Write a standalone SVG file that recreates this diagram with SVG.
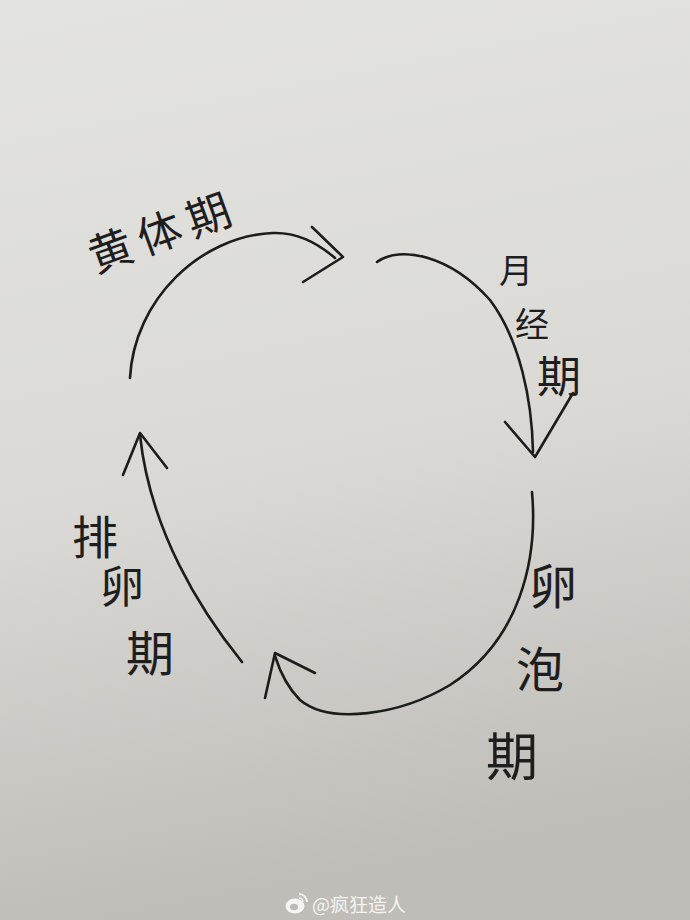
<svg xmlns="http://www.w3.org/2000/svg" width="690" height="920" viewBox="0 0 690 920">
<defs>
<linearGradient id="bg" x1="0" y1="0" x2="0.15" y2="1">
<stop offset="0" stop-color="#e3e3df"/>
<stop offset="0.55" stop-color="#dad9d5"/>
<stop offset="1" stop-color="#c0bdb8"/>
</linearGradient>
<style>
.ink{fill:none;stroke:#1c1c1c;stroke-width:2.6;stroke-linecap:round;stroke-linejoin:round}
.lbl{font-family:"Noto Sans CJK SC","Noto Sans",sans-serif;font-weight:400;fill:#1e1e1e;text-anchor:middle}
.wm{font-family:"Noto Sans CJK SC","Liberation Sans",sans-serif;font-size:19px;fill:#f4f4f2}
</style>
</defs>
<rect width="690" height="920" fill="url(#bg)"/>
<g id="connectors">
<path class="ink" d="M130,378 C134,300 200,236 273,233 C300,232 320,245 335,258"/>
<path class="ink" d="M312,227 L343,257 L303,282"/>
<path class="ink" d="M377,262 C400,245 450,255 490,300 C520,340 532,400 533,452"/>
<path class="ink" d="M505,422 L535,457 L573,393"/>
<path class="ink" d="M532,492 C538,560 520,640 450,685 C400,715 330,725 300,700 C290,690 281,675 275,656"/>
<path class="ink" d="M265,698 L275,653 L315,673"/>
<path class="ink" d="M242,662 C200,610 150,530 140,435"/>
<path class="ink" d="M123,475 L140,433 L167,468"/>
</g>
<g id="node-huangti">
<text class="lbl" font-size="44" transform="translate(165,248) rotate(-20)"><tspan x="-52" y="0">黄</tspan><tspan x="0" y="0">体</tspan><tspan x="52" y="0">期</tspan></text>
</g>
<g id="node-yuejing">
<text class="lbl" font-size="34" x="516" y="283">月</text>
<text class="lbl" font-size="34" x="532" y="337">经</text>
<text class="lbl" font-size="44" x="559" y="393">期</text>
</g>
<g id="node-luanpao">
<text class="lbl" font-size="48" x="553" y="604">卵</text>
<text class="lbl" font-size="48" x="540" y="687">泡</text>
<text class="lbl" font-size="52" x="512" y="776">期</text>
</g>
<g id="node-pailuan">
<text class="lbl" font-size="46" x="95" y="554">排</text>
<text class="lbl" font-size="44" x="122" y="603">卵</text>
<text class="lbl" font-size="48" x="150" y="671">期</text>
</g>
<g id="watermark">
<ellipse cx="295" cy="906" rx="9.5" ry="7.5" fill="#f4f4f2"/>
<ellipse cx="294" cy="907" rx="4" ry="3.2" fill="#bdbab5"/>
<path d="M299,894 A8,8 0 0 1 307,902" fill="none" stroke="#f4f4f2" stroke-width="2"/>
<path d="M299,898 A4,4 0 0 1 303,902" fill="none" stroke="#f4f4f2" stroke-width="1.6"/>
<text class="wm" x="312" y="912">@疯狂造人</text>
</g>
</svg>
